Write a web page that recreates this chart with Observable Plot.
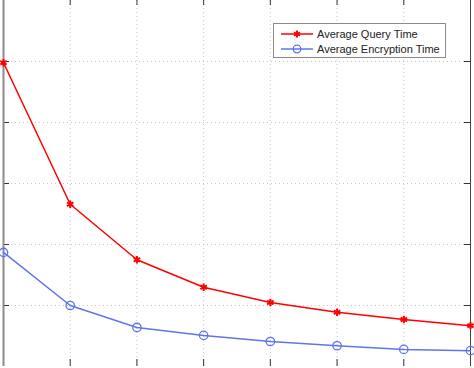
<!DOCTYPE html>
<html>
<head>
<meta charset="utf-8">
<script src="https://cdn.jsdelivr.net/npm/d3@7"></script>
<script src="https://cdn.jsdelivr.net/npm/@observablehq/plot@0.6"></script>
<style>
  html, body { margin: 0; padding: 0; background: #fff; }
  #wrap { position: relative; width: 474px; height: 368px; overflow: hidden; }
  #legend { position: absolute; left: 273px; top: 23px; width: 171px; height: 33px;
    border: 1px solid #8a8a8a; background: #fff; font-family: "Liberation Sans", Arial, sans-serif;
    font-size: 11px; color: #222; }
  .row { position: absolute; left: 0; height: 14px; display: flex; align-items: center; }
  .row svg { margin-left: 7px; margin-right: 4px; }
</style>
</head>
<body>
<div id="wrap"><div id="chart"></div><div id="legend"></div></div>
<script>
const xValues = [1, 2, 3, 4, 5, 6, 7, 8];
const queryTime = [4.98, 2.66, 1.75, 1.30, 1.05, 0.89, 0.77, 0.67];
const encryptionTime = [1.87, 1.00, 0.64, 0.51, 0.41, 0.34, 0.28, 0.26];
const seriesNames = ["Average Query Time", "Average Encryption Time"];
const xTicks = [2, 3, 4, 5, 6, 7];
const yTicks = [1, 2, 3, 4, 5];

const red = "#ff0000";
const blue = "#5f74ee";
const q = xValues.map((x, i) => ({x, y: queryTime[i]}));
const e = xValues.map((x, i) => ({x, y: encryptionTime[i]}));

const chart = Plot.plot({
  width: 474, height: 368,
  marginLeft: 3, marginRight: 4, marginTop: 0, marginBottom: 2,
  x: {domain: [1, 8], axis: null},
  y: {domain: [0, 6], axis: null},
  marks: [
    Plot.ruleX(xTicks, {stroke: "#c4c4c4", strokeDasharray: "1,3"}),
    Plot.ruleY(yTicks, {stroke: "#c4c4c4", strokeDasharray: "1,3"}),
    Plot.ruleX(xTicks, {stroke: "#333", insetBottom: 361}),
    Plot.ruleX(xTicks, {stroke: "#333", insetTop: 359}),
    Plot.ruleY(yTicks, {stroke: "#333", insetRight: 461}),
    Plot.ruleY(yTicks, {stroke: "#333", insetLeft: 461}),
    Plot.ruleX([1], {stroke: "#8c8c8c", strokeWidth: 2}),
    Plot.ruleX([8], {stroke: "#444", strokeWidth: 1}),
    Plot.line(q, {x: "x", y: "y", stroke: red, strokeWidth: 1.5}),
    Plot.dot(q, {x: "x", y: "y", symbol: "asterisk", r: 3.5, stroke: red, strokeWidth: 2}),
    Plot.line(e, {x: "x", y: "y", stroke: blue, strokeWidth: 1.5}),
    Plot.dot(e, {x: "x", y: "y", symbol: "circle", r: 4.2, stroke: blue, strokeWidth: 1.3, fill: "none"})
  ]
});
document.getElementById("chart").appendChild(chart);

const legend = document.getElementById("legend");
const swatch = (color, marker) => `<svg width="32" height="10" viewBox="0 0 32 10">
  <line x1="0" y1="5" x2="32" y2="5" stroke="${color}" stroke-width="1.5"/>
  ${marker === "asterisk"
    ? `<g stroke="${color}" stroke-width="2"><line x1="16" y1="1.5" x2="16" y2="8.5"/><line x1="13" y1="3.25" x2="19" y2="6.75"/><line x1="13" y1="6.75" x2="19" y2="3.25"/></g>`
    : `<circle cx="16" cy="5" r="3.8" fill="none" stroke="${color}" stroke-width="1.3"/>`}
</svg>`;
[[seriesNames[0], red, "asterisk", 3], [seriesNames[1], blue, "circle", 18]].forEach(([name, color, m, top]) => {
  const row = document.createElement("div");
  row.className = "row";
  row.style.top = top + "px";
  row.innerHTML = swatch(color, m) + `<span>${name}</span>`;
  legend.appendChild(row);
});
</script>
</body>
</html>
